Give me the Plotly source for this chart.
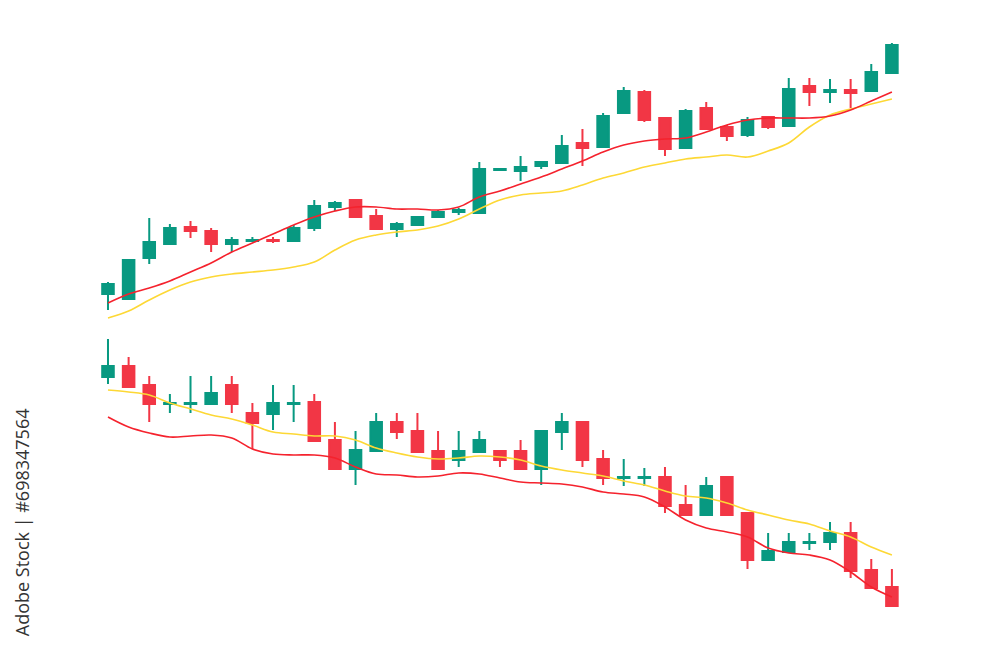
import plotly.graph_objects as go

# ---- data (price units) ----
idx = list(range(39))

top_open  = [35.6,35.1,39.2,40.6,42.3,41.9,40.6,40.9,41.0,40.9,42.2,44.3,45.0,43.4,42.1,42.5,43.3,43.8,43.7,48.0,47.9,48.4,48.7,50.7,50.3,53.7,55.8,53.2,50.2,54.2,52.3,51.5,53.3,52.4,56.4,55.8,56.0,55.9,57.7]
top_high  = [36.8,39.1,43.2,42.6,42.9,42.2,41.3,41.3,41.3,42.5,45.0,44.9,45.0,44.1,42.8,43.3,44.0,44.2,48.8,48.1,49.4,48.9,51.5,52.1,53.7,56.3,56.0,53.2,54.1,54.8,52.5,53.3,53.3,57.2,57.2,57.1,57.1,58.6,60.7]
top_low   = [34.0,35.1,38.6,40.6,41.2,39.8,39.8,40.8,40.7,40.9,41.9,43.9,43.3,42.1,41.3,42.5,43.3,43.5,43.7,48.0,46.9,48.1,48.6,48.4,50.2,53.7,52.8,49.4,50.2,52.1,50.9,51.3,52.1,52.4,54.4,54.7,54.2,55.9,57.7]
top_close = [36.6,39.0,40.8,42.2,41.9,40.6,41.0,41.0,40.9,42.2,44.4,44.7,43.3,42.1,42.6,43.3,43.8,44.0,48.1,48.1,48.3,48.8,50.4,50.2,53.4,55.9,53.0,50.1,53.9,52.1,51.4,53.0,52.3,56.1,55.8,56.0,55.7,57.8,60.5]
top_ma_fast = [34.7,35.6,36.2,36.9,37.8,38.7,39.8,40.7,41.6,42.5,43.3,43.9,44.3,44.3,44.1,44.1,44.0,44.3,45.3,45.9,46.6,47.3,48.1,48.9,49.8,50.5,50.9,51.1,51.2,51.8,52.5,53.0,53.2,53.2,53.2,53.4,54.0,54.9,55.8]
top_ma_slow = [33.2,33.9,35.0,36.0,36.8,37.3,37.6,37.8,38.0,38.3,38.8,40.0,41.0,41.5,41.8,42.0,42.4,43.1,44.1,45.0,45.5,45.7,45.9,46.5,47.2,47.7,48.3,48.7,49.1,49.3,49.5,49.3,49.9,50.7,52.3,53.5,54.1,54.6,55.1]

bot_open  = [27.3,28.4,26.5,24.6,24.6,24.6,26.5,23.7,23.6,24.6,24.8,21.0,18.1,19.9,22.8,21.9,19.9,19.0,19.8,19.9,19.9,18.1,21.8,22.8,19.1,17.2,17.2,17.3,14.5,13.5,17.3,13.7,9.0,9.8,10.7,10.8,11.7,8.0,6.3]
bot_high  = [31.1,29.3,27.4,25.6,27.4,27.4,27.4,24.7,26.5,26.5,25.6,22.8,21.9,23.7,23.7,23.7,21.9,21.9,21.9,19.9,21.0,21.9,23.7,22.8,20.0,19.1,18.2,18.3,16.5,17.3,17.3,13.7,11.7,11.7,11.7,12.8,12.8,9.1,8.1]
bot_low   = [26.6,26.3,22.8,23.7,23.7,24.6,23.7,20.1,22.0,22.8,20.9,18.1,16.5,19.9,21.1,19.8,18.1,18.3,19.8,18.3,18.1,16.5,20.0,18.3,16.5,16.4,16.4,13.7,13.5,13.5,13.5,8.1,9.0,9.8,10.0,10.0,7.2,6.2,4.4]
bot_close = [28.4,26.3,24.6,24.7,24.7,25.7,24.6,22.7,24.7,24.7,20.9,18.1,20.0,22.8,21.8,19.8,18.1,19.9,21.0,19.0,18.1,21.9,22.8,19.0,17.2,17.3,17.3,14.4,13.5,16.4,13.5,9.0,9.9,10.8,10.8,11.7,7.9,6.2,4.4]
bot_ma_slow = [26.0,25.8,25.5,24.7,24.1,23.5,23.1,22.5,21.8,21.6,21.4,21.4,21.0,20.2,19.7,19.3,19.1,19.2,19.4,19.3,19.0,18.4,18.0,17.7,17.4,16.9,16.5,15.9,15.4,15.2,14.7,14.0,13.5,13.0,12.6,11.9,11.3,10.3,9.5]
bot_ma_fast = [23.3,22.3,21.7,21.3,21.4,21.5,21.2,20.1,19.6,19.5,19.5,19.2,18.3,17.6,17.5,17.3,17.4,17.7,17.6,17.2,16.8,16.7,16.6,16.3,15.8,15.6,15.3,14.3,13.0,12.2,11.8,11.3,10.2,9.7,9.5,9.0,7.8,6.3,5.3]

UP = "#089981"
DOWN = "#f23645"
MA_FAST = "#f5222d"
MA_SLOW = "#fdd835"

fig = go.Figure()

def add_ma(y, color):
    fig.add_trace(go.Scatter(x=idx, y=y, mode="lines",
                             line=dict(color=color, width=1.6, shape="spline", smoothing=1.0),
                             hoverinfo="skip", showlegend=False))

def add_candles(o, h, l, c):
    fig.add_trace(go.Candlestick(
        x=idx, open=o, high=h, low=l, close=c,
        increasing=dict(line=dict(color=UP, width=2), fillcolor=UP),
        decreasing=dict(line=dict(color=DOWN, width=2), fillcolor=DOWN),
        whiskerwidth=0, showlegend=False))

add_ma(top_ma_slow, MA_SLOW)
add_ma(top_ma_fast, MA_FAST)
add_ma(bot_ma_slow, MA_SLOW)
add_ma(bot_ma_fast, MA_FAST)
add_candles(top_open, top_high, top_low, top_close)
add_candles(bot_open, bot_high, bot_low, bot_close)

fig.add_annotation(text="Adobe Stock | #698347564", xref="paper", yref="paper",
                   x=0.0141, y=0.199, xanchor="center", yanchor="middle",
                   textangle=-90, showarrow=False,
                   font=dict(family="Open Sans, DejaVu Sans, sans-serif", size=18, color="#333333"))

fig.update_layout(
    width=992, height=642,
    margin=dict(l=0, r=0, t=0, b=0),
    paper_bgcolor="white", plot_bgcolor="white",
    showlegend=False, boxgap=0.2,
    xaxis=dict(range=[-4.847, 43.24], visible=False, rangeslider=dict(visible=False), fixedrange=True),
    yaxis=dict(range=[0, 64.2], visible=False, fixedrange=True),
)

fig.write_html("out.html")
